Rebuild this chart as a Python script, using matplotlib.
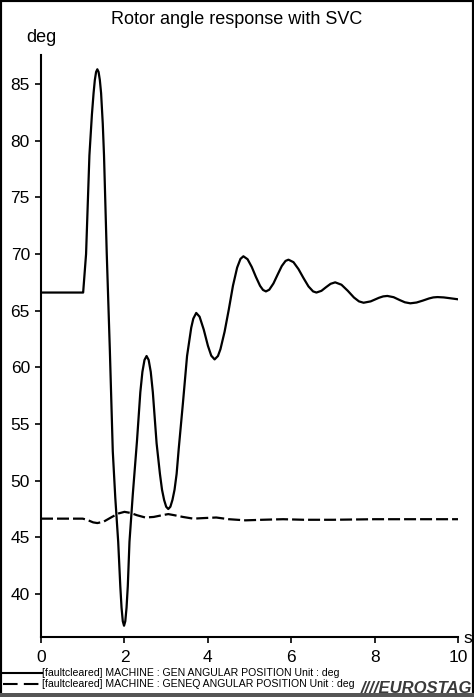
import matplotlib
matplotlib.use('Agg')
import matplotlib.pyplot as plt
from matplotlib.patches import Rectangle

plt.rcParams['font.family'] = ['Liberation Sans', 'DejaVu Sans']

# GEN angular position (deg)
t_gen = [0.0, 1.0, 1.01, 1.08, 1.16, 1.22, 1.26, 1.29, 1.32, 1.35, 1.38, 1.41,
         1.44, 1.48, 1.51, 1.575, 1.65, 1.72, 1.78, 1.85, 1.90, 1.93, 1.96, 1.99,
         2.02, 2.05, 2.08, 2.12, 2.20, 2.30, 2.38, 2.43, 2.48, 2.53, 2.58, 2.63,
         2.68, 2.77, 2.85, 2.90, 2.95, 3.00, 3.05, 3.10, 3.15, 3.20, 3.25, 3.30,
         3.40, 3.50, 3.60, 3.65, 3.72, 3.80, 3.90, 4.00, 4.08, 4.16, 4.24, 4.30,
         4.40, 4.50, 4.60, 4.70, 4.78, 4.85, 4.95, 5.05, 5.15, 5.25, 5.32, 5.39,
         5.47, 5.57, 5.67, 5.77, 5.86, 5.93, 6.05, 6.17, 6.29, 6.41, 6.52, 6.60,
         6.72, 6.83, 6.94, 7.05, 7.20, 7.35, 7.50, 7.62, 7.73, 7.90, 8.00, 8.10,
         8.20, 8.30, 8.45, 8.60, 8.72, 8.85, 9.00, 9.15, 9.30, 9.40, 9.50, 9.65,
         9.80, 10.0]
v_gen = [66.6, 66.6, 66.6, 70.0, 78.7, 82.3, 84.2, 85.35, 86.06, 86.3, 86.06, 85.35,
         84.2, 81.5, 78.7, 70.1, 61.5, 52.6, 48.5, 44.6, 40.7, 38.8, 37.6, 37.2,
         37.6, 38.8, 40.7, 44.6, 48.8, 53.5, 57.8, 59.6, 60.65, 61.0, 60.65, 59.6,
         57.8, 53.3, 50.6, 49.2, 48.3, 47.7, 47.5, 47.7, 48.3, 49.2, 50.6, 52.8,
         56.8, 61.0, 63.5, 64.3, 64.8, 64.47, 63.33, 61.9, 61.03, 60.7, 61.0, 61.6,
         63.15, 65.1, 67.2, 68.8, 69.57, 69.8, 69.54, 68.86, 67.98, 67.19, 66.83, 66.7,
         66.85, 67.4, 68.18, 68.94, 69.39, 69.5, 69.28, 68.67, 67.88, 67.14, 66.7, 66.6,
         66.75, 67.07, 67.37, 67.5, 67.29, 66.76, 66.16, 65.82, 65.7, 65.82, 65.98, 66.14,
         66.26, 66.3, 66.19, 65.93, 65.74, 65.65, 65.72, 65.89, 66.08, 66.17, 66.2, 66.17,
         66.1, 66.0]

# GENEQ angular position (deg)
t_geneq = [0.0, 1.0, 1.1, 1.25, 1.35, 1.5, 1.7, 1.85, 2.0, 2.15, 2.3, 2.5,
           2.7, 2.9, 3.05, 3.2, 3.4, 3.65, 3.9, 4.2, 4.5, 4.9, 5.3, 5.8,
           6.3, 7.0, 8.0, 9.0, 10.0]
v_geneq = [46.65, 46.65, 46.55, 46.32, 46.26, 46.38, 46.8, 47.1, 47.25, 47.15, 46.95, 46.75,
           46.8, 46.95, 47.05, 46.95, 46.8, 46.65, 46.7, 46.75, 46.6, 46.5, 46.55, 46.6,
           46.55, 46.55, 46.6, 46.6, 46.6]

x_ticks = [0, 2, 4, 6, 8, 10]
y_ticks = [40, 45, 50, 55, 60, 65, 70, 75, 80, 85]

W, H = 474, 697
fig = plt.figure(figsize=(W / 100, H / 100), dpi=100)
ax = fig.add_axes([41 / W, (H - 637.3) / H, (458.3 - 41) / W, (637.3 - 55) / H])

ax.plot(t_gen, v_gen, color='black', lw=1.6, solid_joinstyle='round')
ax.plot(t_geneq, v_geneq, color='black', lw=1.6, dashes=(5.4, 1.8))

ax.set_xlim(0, 10)
ax.set_ylim(36.18, 87.56)
ax.set_xticks(x_ticks)
ax.set_yticks(y_ticks)
ax.tick_params(axis='both', direction='out', length=4, width=1.2, labelsize=12.5)
ax.tick_params(axis='x', pad=5)
ax.tick_params(axis='y', pad=4)
for s in ['top', 'right']:
    ax.spines[s].set_visible(False)
for s in ['left', 'bottom']:
    ax.spines[s].set_linewidth(1.5)

fig.text(237 / W, 1 - 20 / H, 'Rotor angle response with SVC', ha='center', va='center', fontsize=13)
fig.text(41 / W, 1 - 38 / H, 'deg', ha='center', va='center', fontsize=13)
fig.text(463 / W, 1 - 643 / H, 's', ha='left', va='baseline', fontsize=12.5)

# legend lines at bottom
fig.add_artist(plt.Line2D([3 / W, 42 / W], [1 - 673 / H, 1 - 673 / H], color='black', lw=1.5))
fig.add_artist(plt.Line2D([3 / W, 42 / W], [1 - 684 / H, 1 - 684 / H], color='black', lw=1.5,
                          dashes=(7, 3)))
fig.text(42 / W, 1 - 673 / H, '[faultcleared] MACHINE : GEN ANGULAR POSITION Unit : deg',
         ha='left', va='center', fontsize=7.6)
fig.text(42 / W, 1 - 684 / H, '[faultcleared] MACHINE : GENEQ ANGULAR POSITION Unit : deg',
         ha='left', va='center', fontsize=7.6)

# logo
fig.text(472 / W, 1 - 693 / H, '////EUROSTAG', ha='right', va='baseline', fontsize=12,
         fontstyle='italic', fontweight='bold', color='#3a3a3a')

# frame
fig.add_artist(Rectangle((0, 0), 1, 1, transform=fig.transFigure, fill=False,
                         edgecolor='black', lw=3))
fig.add_artist(Rectangle((0, 0), 1, 4 / H, transform=fig.transFigure,
                         facecolor='#555555', edgecolor='none'))

fig.savefig('out.png', dpi=100)
